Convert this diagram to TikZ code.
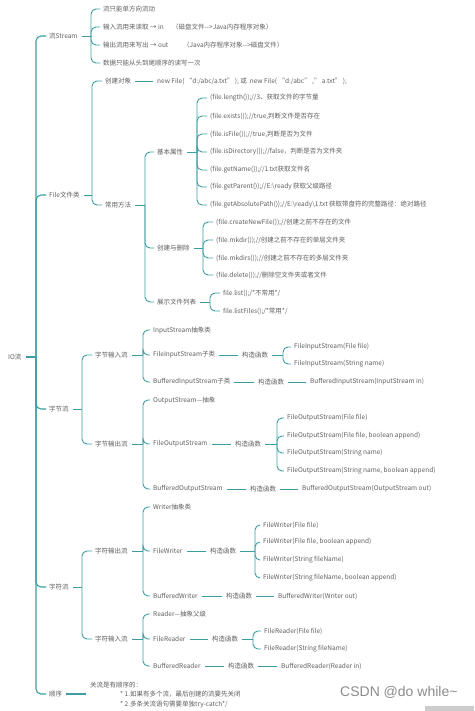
\documentclass[tikz,border=0pt]{standalone}
\usepackage{fontspec}
\setmainfont{Noto Sans CJK SC}
\newfontfamily\wmfont{Liberation Sans}
\definecolor{lnc}{RGB}{60,158,160}
\definecolor{tx}{RGB}{95,95,95}
\tikzset{
  t/.style={anchor=west, inner xsep=1pt, inner ysep=1pt, text=tx, font=\fontsize{6.5}{8}\selectfont},
  ln/.style={draw=lnc, line width=0.9pt},
  br/.style={ln, rounded corners=5pt, shorten >=2pt},
  pl/.style={ln, shorten <=3pt},
  sl/.style={ln, shorten <=3pt, shorten >=3pt},
}
\begin{document}
\begin{tikzpicture}[x=1pt,y=-1pt]
\fill[white] (0,0) rectangle (474,711);
\path[use as bounding box] (0,0) rectangle (474,711);

% root
\node[t] (io) at (7,357) {IO流};
\coordinate (jio) at (36,357);

% 流Stream
\node[t] (st) at (48,36) {流Stream}; \coordinate (jst) at (91,36);
\node[t] (s1) at (102,9) {流只能单方向流动};
\node[t] (s2) at (102,27) {\makebox[69pt][l]{输入流用来读取 → in}（磁盘文件-{}->Java内存程序对象）};
\node[t] (s3) at (102,45) {\makebox[80pt][l]{输出流用来写出 → out}（Java内存程序对象-{}->磁盘文件）};
\node[t] (s4) at (102,63) {数据只能从头到尾顺序的读写一次};

% File
\node[t] (fi) at (48,195) {File文件类}; \coordinate (jfi) at (92,195);
\node[t] (cr) at (104,81) {创建对象};
\node[t] (nf) at (156,81) {new File( “d:/abc/a.txt” ); 或\ \ new File( “d:/abc” ,” a.txt” );};
\node[t] (me) at (104,205) {常用方法}; \coordinate (jme) at (145,205);
\node[t] (ba) at (156,152) {基本属性}; \coordinate (jba) at (197,152);
\node[t] (b1) at (209,98) {(file.length());//3、获取文件的字节量};
\node[t] (b2) at (209,116) {(file.exists());//true,判断文件是否存在};
\node[t] (b3) at (209,134) {(file.isFile());//true,判断是否为文件};
\node[t] (b4) at (209,152) {(file.isDirectory());//false，判断是否为文件夹};
\node[t] (b5) at (209,170) {(file.getName());//1.txt获取文件名};
\node[t] (b6) at (209,187) {(file.getParent());//E:\textbackslash ready 获取父级路径};
\node[t] (b7) at (209,205) {(file.getAbsolutePath());//E:\textbackslash ready\textbackslash 1.txt 获取带盘符的完整路径：绝对路径};
\node[t] (cd) at (156,248) {创建与删除}; \coordinate (jcd) at (203,248);
\node[t] (c1) at (215,222) {(file.createNewFile());//创建之前不存在的文件};
\node[t] (c2) at (215,240) {(file.mkdir());//创建之前不存在的单层文件夹};
\node[t] (c3) at (215,258) {(file.mkdirs());//创建之前不存在的多层文件夹};
\node[t] (c4) at (215,275) {(file.delete());//删除空文件夹或者文件};
\node[t] (sh) at (156,302) {展示文件列表}; \coordinate (jsh) at (210,302);
\node[t] (l1) at (222,293) {file.list();/*不常用*/};
\node[t] (l2) at (222,311) {file.listFiles();/*常用*/};

% 字节流
\node[t] (by) at (48,409) {字节流}; \coordinate (jby) at (82,409);
\node[t] (bi) at (94,355) {字节输入流}; \coordinate (jbi) at (143,355);
\node[t] (i1) at (152,330) {InputStream抽象类};
\node[t] (i2) at (152,355) {FileInputStream子类};
\node[t] (i2k) at (241,355) {构造函数}; \coordinate (ji2k) at (283,355);
\node[t] (i2a) at (293,347) {FileInputStream(File file)};
\node[t] (i2b) at (293,364) {FileInputStream(String name)};
\node[t] (i3) at (152,382) {BufferedInputStream子类};
\node[t] (i3k) at (257,382) {构造函数};
\node[t] (i3a) at (309,382) {BufferedInputStream(InputStream in)};

\node[t] (bo) at (94,444) {字节输出流}; \coordinate (jbo) at (143,444);
\node[t] (o1) at (152,400) {OutputStream—抽象};
\node[t] (o2) at (152,444) {FileOutputStream};
\node[t] (o2k) at (234,444) {构造函数}; \coordinate (jo2k) at (277,444);
\node[t] (o2a) at (286,418) {FileOutputStream(File file)};
\node[t] (o2b) at (286,436) {FileOutputStream(File file, boolean append)};
\node[t] (o2c) at (286,453) {FileOutputStream(String name)};
\node[t] (o2d) at (286,471) {FileOutputStream(String name, boolean append)};
\node[t] (o3) at (152,489) {BufferedOutputStream};
\node[t] (o3k) at (249,489) {构造函数};
\node[t] (o3a) at (301,489) {BufferedOutputStream(OutputStream out)};

% 字符流
\node[t] (ch) at (48,587) {字符流}; \coordinate (jch) at (82,587);
\node[t] (co) at (94,551) {字符输出流}; \coordinate (jco) at (143,551);
\node[t] (w1) at (152,507) {Writer抽象类};
\node[t] (w2) at (152,551) {FileWriter};
\node[t] (w2k) at (209,551) {构造函数}; \coordinate (jw2k) at (255,551);
\node[t] (w2a) at (262,525) {FileWriter(File file)};
\node[t] (w2b) at (262,542) {FileWriter(File file, boolean append)};
\node[t] (w2c) at (262,560) {FileWriter(String fileName)};
\node[t] (w2d) at (262,578) {FileWriter(String fileName, boolean append)};
\node[t] (w3) at (152,596) {BufferedWriter};
\node[t] (w3k) at (225,596) {构造函数};
\node[t] (w3a) at (277,596) {BufferedWriter(Writer out)};

\node[t] (ci) at (94,639) {字符输入流}; \coordinate (jci) at (143,639);
\node[t] (r1) at (152,614) {Reader—抽象父级};
\node[t] (r2) at (152,639) {FileReader};
\node[t] (r2k) at (211,639) {构造函数}; \coordinate (jr2k) at (253,639);
\node[t] (r2a) at (263,631) {FileReader(File file)};
\node[t] (r2b) at (263,649) {FileReader(String fileName)};
\node[t] (r3) at (152,666) {BufferedReader};
\node[t] (r3k) at (227,666) {构造函数};
\node[t] (r3a) at (280,666) {BufferedReader(Reader in)};

% 顺序
\node[t] (od) at (48,694) {顺序};
\node[t, align=left, font=\fontsize{6.5}{9.5}\selectfont] (note) at (89,695)
  {关流是有顺序的：\\\hspace*{30pt}* 1.如果有多个流，最后创建的流要先关闭\\\hspace*{30pt}* 2.多条关流语句需要单独try-catch*/};

% connectors
\draw[pl, line width=1.1pt] (io.east) -- (jio);
\foreach \c in {st,fi,by,ch,od} \draw[br, line width=1.1pt] (jio) |- (\c.west);

\draw[pl] (st.east) -- (jst);
\foreach \c in {s1,s2,s3,s4} \draw[br] (jst) |- (\c.west);

\draw[pl] (fi.east) -- (jfi);
\foreach \c in {cr,me} \draw[br] (jfi) |- (\c.west);
\draw[sl] (cr.east) -- (nf.west);
\draw[pl] (me.east) -- (jme);
\foreach \c in {ba,cd,sh} \draw[br] (jme) |- (\c.west);
\draw[pl] (ba.east) -- (jba);
\foreach \c in {b1,b2,b3,b4,b5,b6,b7} \draw[br] (jba) |- (\c.west);
\draw[pl] (cd.east) -- (jcd);
\foreach \c in {c1,c2,c3,c4} \draw[br] (jcd) |- (\c.west);
\draw[pl] (sh.east) -- (jsh);
\foreach \c in {l1,l2} \draw[br] (jsh) |- (\c.west);

\draw[pl] (by.east) -- (jby);
\foreach \c in {bi,bo} \draw[br] (jby) |- (\c.west);
\draw[pl] (bi.east) -- (jbi);
\foreach \c in {i1,i2,i3} \draw[br] (jbi) |- (\c.west);
\draw[sl] (i2.east) -- (i2k.west);
\draw[pl] (i2k.east) -- (ji2k);
\foreach \c in {i2a,i2b} \draw[br] (ji2k) |- (\c.west);
\draw[sl] (i3.east) -- (i3k.west);
\draw[sl] (i3k.east) -- (i3a.west);

\draw[pl] (bo.east) -- (jbo);
\foreach \c in {o1,o2,o3} \draw[br] (jbo) |- (\c.west);
\draw[sl] (o2.east) -- (o2k.west);
\draw[pl] (o2k.east) -- (jo2k);
\foreach \c in {o2a,o2b,o2c,o2d} \draw[br] (jo2k) |- (\c.west);
\draw[sl] (o3.east) -- (o3k.west);
\draw[sl] (o3k.east) -- (o3a.west);

\draw[pl] (ch.east) -- (jch);
\foreach \c in {co,ci} \draw[br] (jch) |- (\c.west);
\draw[pl] (co.east) -- (jco);
\foreach \c in {w1,w2,w3} \draw[br] (jco) |- (\c.west);
\draw[sl] (w2.east) -- (w2k.west);
\draw[pl] (w2k.east) -- (jw2k);
\foreach \c in {w2a,w2b,w2c,w2d} \draw[br] (jw2k) |- (\c.west);
\draw[sl] (w3.east) -- (w3k.west);
\draw[sl] (w3k.east) -- (w3a.west);

\draw[pl] (ci.east) -- (jci);
\foreach \c in {r1,r2,r3} \draw[br] (jci) |- (\c.west);
\draw[sl] (r2.east) -- (r2k.west);
\draw[pl] (r2k.east) -- (jr2k);
\foreach \c in {r2a,r2b} \draw[br] (jr2k) |- (\c.west);
\draw[sl] (r3.east) -- (r3k.west);
\draw[sl] (r3k.east) -- (r3a.west);

\draw[sl, line width=1.1pt] (od.east) -- (od.east -| note.west);

% watermark
\node[anchor=west, inner sep=0, text=black!45, font=\wmfont\fontsize{14}{14}\selectfont] (wm) at (340,692) {CSDN @do while\textasciitilde};
\fill[black!20] (425,706) rectangle (474,711);
\end{tikzpicture}
\end{document}
